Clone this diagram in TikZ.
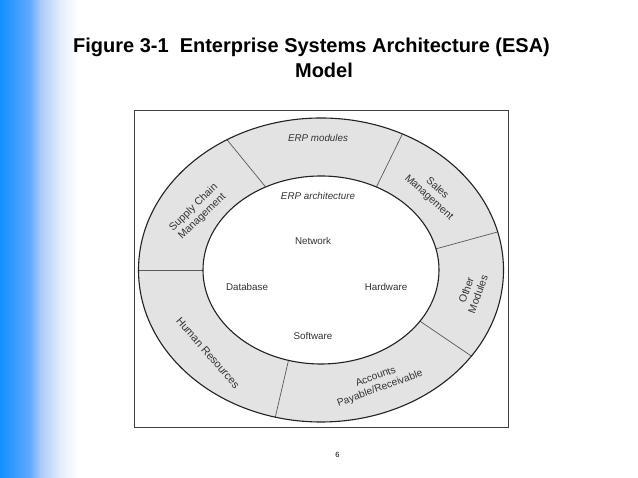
\documentclass[tikz,border=0pt]{standalone}
\usepackage{fontspec}
\setmainfont{Liberation Sans}
\definecolor{blueA}{HTML}{1590FF}
\definecolor{blueB}{HTML}{3A9CFF}
\definecolor{blueC}{HTML}{64AAFF}
\definecolor{blueD}{HTML}{A8C9FB}
\definecolor{blueE}{HTML}{E4EDFD}
\definecolor{ringgray}{HTML}{E3E3E3}
\definecolor{inktext}{HTML}{333333}
\definecolor{inkline}{HTML}{222222}
\tikzset{
  lbl/.style={text=inktext, font=\fontsize{9.8}{11.6}\selectfont, align=center, inner sep=0pt},
  ilbl/.style={lbl, font=\fontsize{9.8}{11.6}\selectfont\itshape},
  rlbl/.style={lbl, font=\fontsize{10.5}{12.4}\selectfont},
  ringline/.style={draw=inkline, line width=1.1pt},
  divider/.style={draw=black!65, line width=0.7pt},
}
\begin{document}
\begin{tikzpicture}[x=1pt,y=1pt]
\useasboundingbox (0,0) rectangle (638,478);
\fill[white] (0,0) rectangle (638,478);
% left blue fade
\shade[left color=blueA, right color=blueB] (0,0) rectangle (15.5,478);
\shade[left color=blueB, right color=blueC] (15,0) rectangle (30.5,478);
\shade[left color=blueC, right color=blueD] (30,0) rectangle (40.5,478);
\shade[left color=blueD, right color=blueE] (40,0) rectangle (60.5,478);
\shade[left color=blueE, right color=white] (60,0) rectangle (78,478);
% title
\node[font=\fontsize{20}{24}\selectfont\bfseries, inner sep=0pt, anchor=base] (t1) at (311.5,425) {Figure 3-1\ \ Enterprise Systems Architecture (ESA)};
\node[font=\fontsize{20}{24}\selectfont\bfseries, inner sep=0pt, anchor=base] (t2) at (324,400) {Model};
% frame
\draw[draw=black!75, line width=0.9pt] (134,51) rectangle (508,368);
% ring
\coordinate (c) at (321,208);
\fill[ringgray, even odd rule] (c) ellipse [x radius=182.5, y radius=152] (c) ellipse [x radius=118, y radius=94];
% dividers
\path (c) ++(121:182.5 and 152) coordinate (o1) (c) ++(118:118 and 94) coordinate (i1);
\path (c) ++(63.5:182.5 and 152) coordinate (o2) (c) ++(62:118 and 94) coordinate (i2);
\path (c) ++(14.5:182.5 and 152) coordinate (o3) (c) ++(13:118 and 94) coordinate (i3);
\path (c) ++(-34.5:182.5 and 152) coordinate (o4) (c) ++(-33:118 and 94) coordinate (i4);
\path (c) ++(-104.5:182.5 and 152) coordinate (o5) (c) ++(-106:118 and 94) coordinate (i5);
\path (c) ++(180:182.5 and 152) coordinate (o6) (c) ++(180:118 and 94) coordinate (i6);
\foreach \k in {1,...,6} { \draw[divider] (i\k) -- (o\k); }
\draw[ringline] (c) ellipse [x radius=182.5, y radius=152];
\draw[ringline] (c) ellipse [x radius=118, y radius=94];
% labels
\node[ilbl] (erpm) at (318,340) {ERP modules};
\node[ilbl] (erpa) at (318,282) {ERP architecture};
\node[lbl] (net) at (313,237) {Network};
\node[lbl] (db) at (247,191) {Database};
\node[lbl] (hw) at (386,191) {Hardware};
\node[lbl] (sw) at (313,142) {Software};
\node[rlbl, rotate=44] (scm) at (198,266) {Supply Chain\\Management};
\node[rlbl, rotate=-42] (sales) at (433,285) {Sales\\Management};
\node[rlbl, rotate=70] (other) at (472,186) {Other\\Modules};
\node[rlbl, font=\fontsize{10.9}{12.8}\selectfont, rotate=-49] (hr) at (208,125) {Human Resources};
\node[rlbl, font=\fontsize{10.2}{12.4}\selectfont, rotate=20] (ap) at (378,95) {Accounts\\Payable/Receivable};
% page number
\node[font=\fontsize{7.5}{9}\selectfont, inner sep=0pt] (pg) at (337.5,23.5) {6};
\end{tikzpicture}
\end{document}
